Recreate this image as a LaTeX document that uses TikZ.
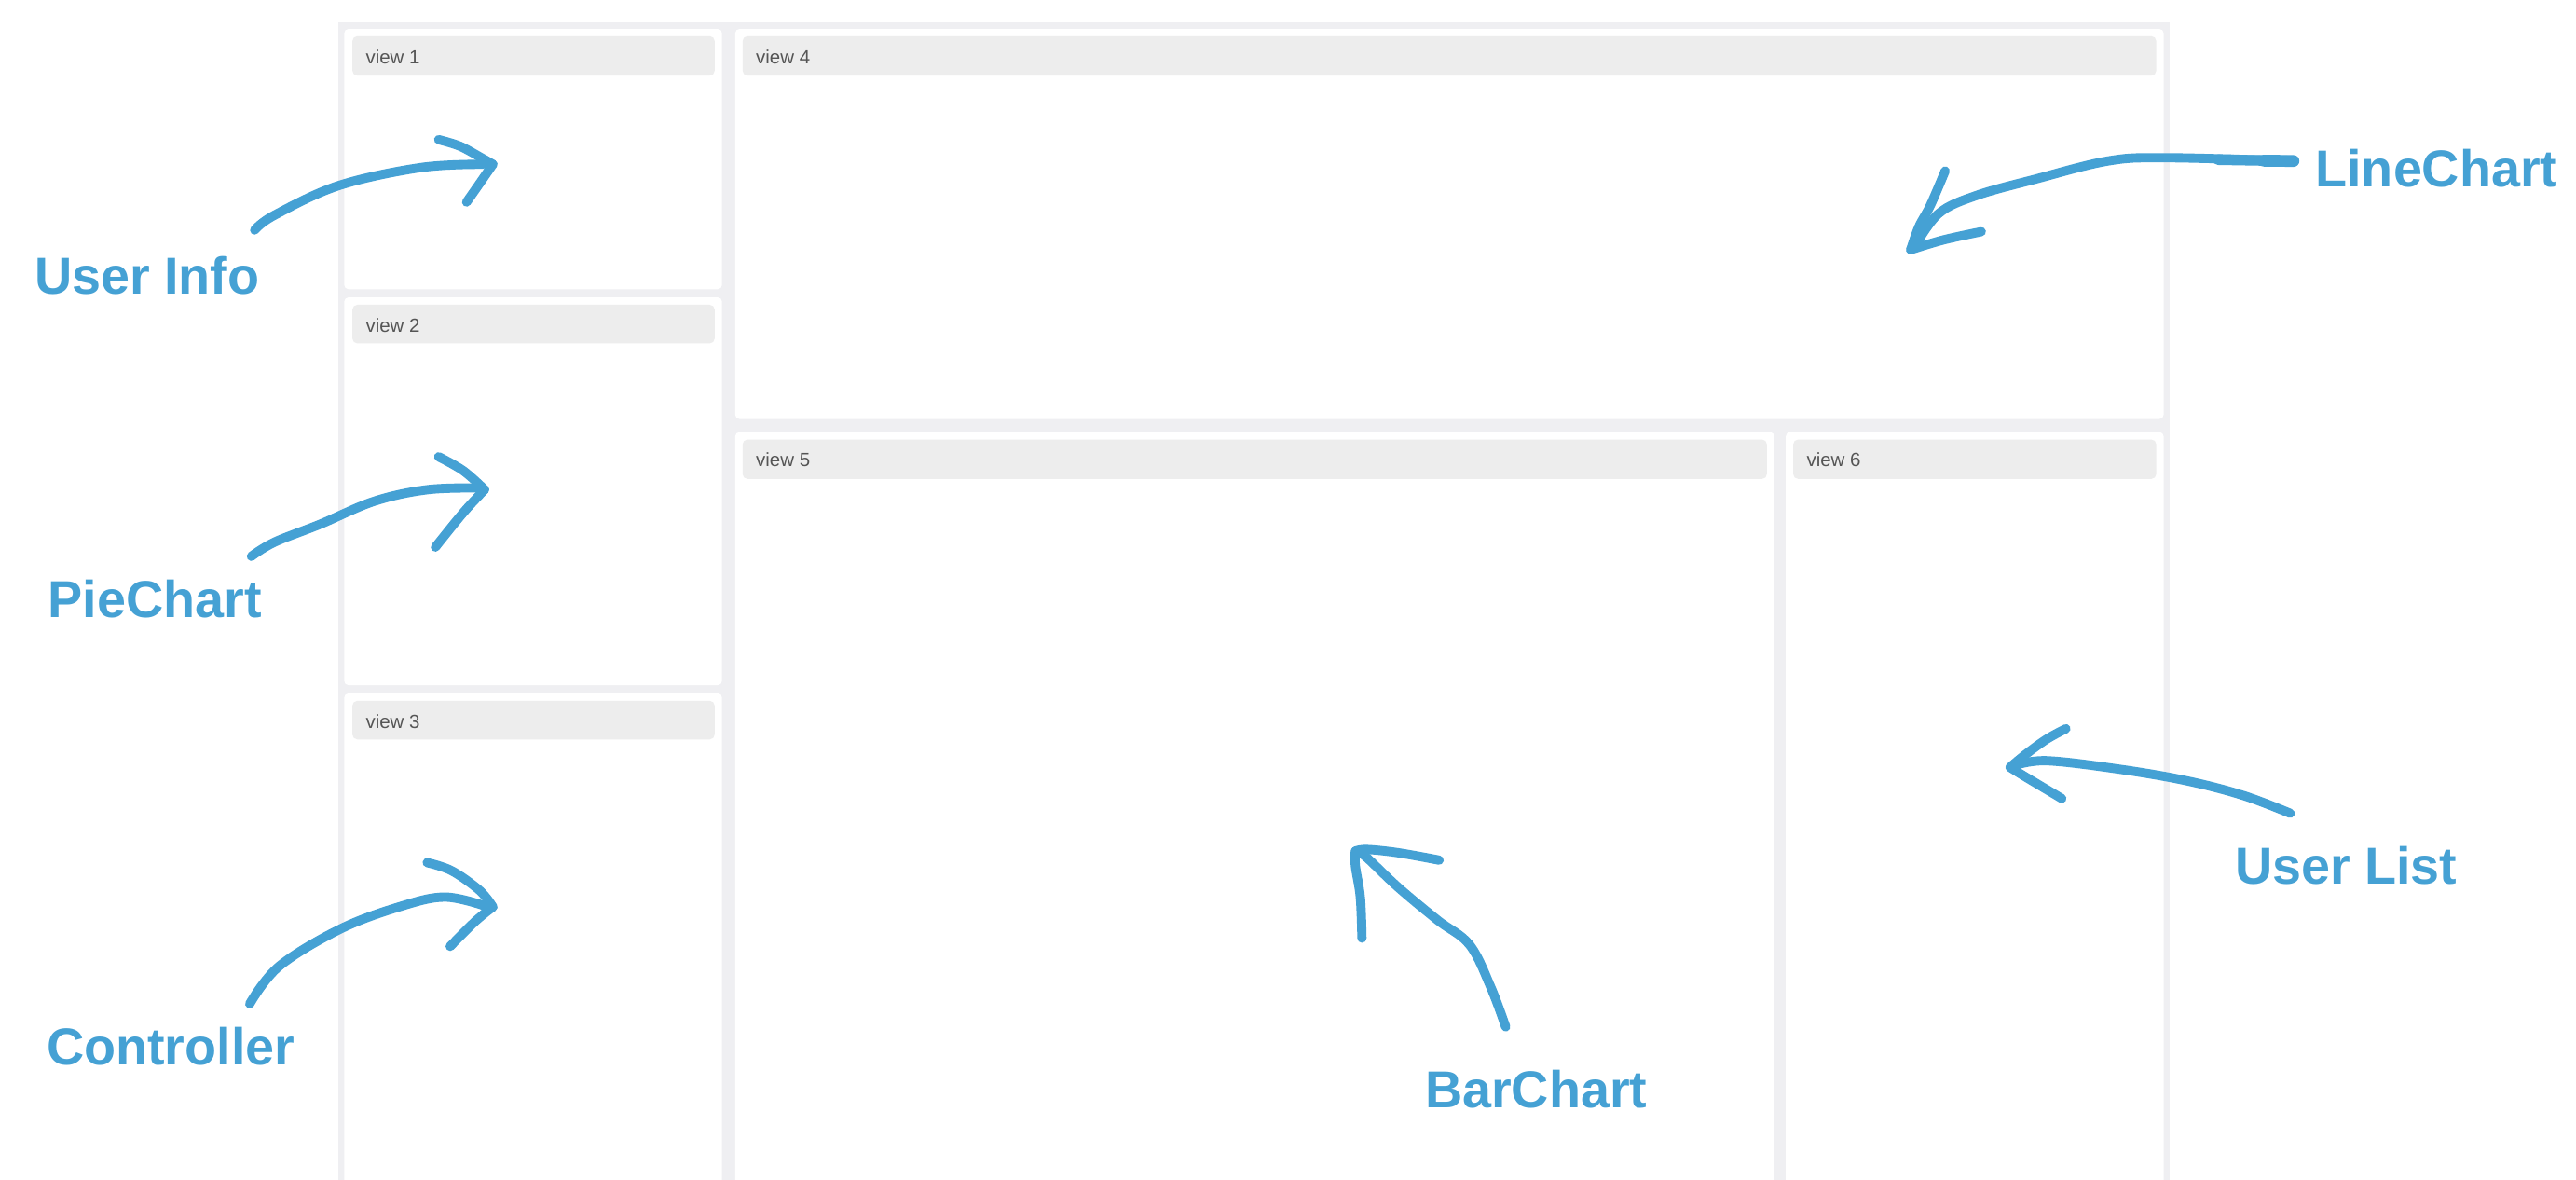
\documentclass[tikz,border=0pt]{standalone}
\usepackage{fontspec}
\setmainfont{Liberation Sans}
\definecolor{ink}{RGB}{69,161,212}
\definecolor{gutter}{RGB}{239,239,242}
\definecolor{hdr}{RGB}{237,237,237}
\definecolor{hdrtext}{RGB}{85,85,85}
\tikzset{
  panel/.style={fill=white, rounded corners=1.3pt},
  hdrbox/.style={fill=hdr, rounded corners=1.5pt},
  hdrlabel/.style={anchor=base west, inner sep=0pt, font=\fontsize{5.8}{6}\selectfont, text=hdrtext},
  callout/.style={anchor=base west, inner sep=0pt, font=\fontsize{15.8}{18}\selectfont\bfseries, text=ink},
  stroke/.style={draw=ink, line width=2.8pt, line cap=round, line join=round},
}
\begin{document}
\begin{tikzpicture}[x=0.5pt,y=-0.5pt]
\useasboundingbox (0,0) rectangle (1568,718);
\fill[white] (0,0) rectangle (1568,718);
\begin{scope}
\clip (0,0) rectangle (1568,718);
% dashboard frame
\fill[gutter] (205.7,13.6) rectangle (1320.5,730);
% panels
\fill[panel] (209.5,17.6) rectangle (439.5,176);
\fill[panel] (209.5,181) rectangle (439.5,417);
\fill[panel] (209.5,422) rectangle (439.5,730);
\fill[panel] (447.5,17.6) rectangle (1317,255);
\fill[panel] (447.5,263) rectangle (1080,730);
\fill[panel] (1087,263) rectangle (1317,730);
% headers
\fill[hdrbox] (214.5,22) rectangle (435,46);
\fill[hdrbox] (214.5,185.5) rectangle (435,209);
\fill[hdrbox] (214.5,426.5) rectangle (435,450);
\fill[hdrbox] (452,22) rectangle (1312.5,46);
\fill[hdrbox] (452,267.5) rectangle (1075.5,291.5);
\fill[hdrbox] (1091.5,267.5) rectangle (1312.5,291.5);
\end{scope}
\node[hdrlabel] (v1) at (222.3,38.6) {view 1};
\node[hdrlabel] (v2) at (222.3,202.1) {view 2};
\node[hdrlabel] (v3) at (222.3,443.1) {view 3};
\node[hdrlabel] (v4) at (459.8,38.6) {view 4};
\node[hdrlabel] (v5) at (459.8,284.1) {view 5};
\node[hdrlabel] (v6) at (1099.3,284.1) {view 6};
% callout labels
\node[callout] (userinfo) at (20.7,179) {User Info};
\node[callout] (piechart) at (29,376) {PieChart};
\node[callout] (controller) at (28,648) {Controller};
\node[callout] (linechart) at (1409,114) {LineChart};
\node[callout] (userlist) at (1360,538) {User List};
\node[callout] (barchart) at (867,674) {BarChart};
% hand-drawn arrows
% User Info
\draw[stroke] plot[smooth, tension=0.6] coordinates {(155,140) (167,131) (206,113) (256,102) (294,100)};
\draw[stroke] plot[smooth, tension=0.6] coordinates {(267,85) (280,89) (293,96) (300,100)};
\draw[stroke] plot[smooth, tension=0.6] coordinates {(300,100) (291,113) (284,123)};
% PieChart
\draw[stroke] plot[smooth, tension=0.6] coordinates {(153,338.6) (167,330) (195,319) (228,305) (260.5,298) (293,297)};
\draw[stroke] plot[smooth, tension=0.6] coordinates {(267,278) (282,286.5) (295,298)};
\draw[stroke] plot[smooth, tension=0.6] coordinates {(295,298) (282,312) (265,333)};
% Controller
\draw[stroke] plot[smooth, tension=0.6] coordinates {(152,611) (170,588) (208,565) (246,551) (271,546) (294,551)};
\draw[stroke] plot[smooth, tension=0.6] coordinates {(260,525) (275,530) (292,542) (300,552)};
\draw[stroke] plot[smooth, tension=0.6] coordinates {(300,552) (289,561) (274,576)};
% LineChart
\draw[stroke] plot[smooth, tension=0.6] coordinates {(1396,98) (1318,96) (1283,98) (1239,109) (1203,119) (1180,130) (1165,151)};
\draw[stroke, line width=3.2pt] (1396,98) -- (1350,97.2);
\draw[stroke, line width=3.6pt] (1396,98) -- (1378,97.8);
\draw[stroke] plot[smooth, tension=0.6] coordinates {(1184,104) (1175,125) (1168,138) (1163,152)};
\draw[stroke] plot[smooth, tension=0.6] coordinates {(1163,152) (1183,146) (1206,141)};
% User List
\draw[stroke] plot[smooth, tension=0.6] coordinates {(1394,495) (1365,484) (1330,475) (1289,468) (1245.6,463) (1226,466)};
\draw[stroke] plot[smooth, tension=0.6] coordinates {(1257.5,443.5) (1245.6,450) (1232.5,459.5) (1223.5,467)};
\draw[stroke] plot[smooth, tension=0.6] coordinates {(1223.5,467) (1232.5,472.6) (1255,486)};
% BarChart
\draw[stroke] plot[smooth, tension=0.6] coordinates {(916.5,625) (907.5,601) (894.5,575) (875,560) (851,540) (832,522) (826,518)};
\draw[stroke] plot[smooth, tension=0.6] coordinates {(829,571) (828,546) (825,527) (825,518)};
\draw[stroke] plot[smooth, tension=0.6] coordinates {(825,518) (832,517) (851,519) (876,523.5)};
\end{tikzpicture}
\end{document}
